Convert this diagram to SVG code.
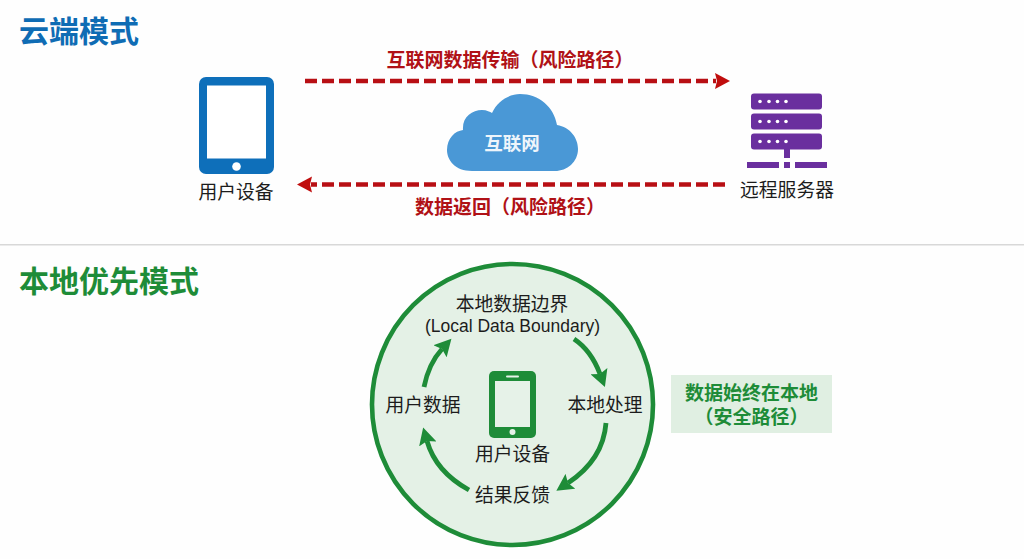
<svg xmlns="http://www.w3.org/2000/svg" width="1024" height="559" viewBox="0 0 1024 559">
<style>
text{font-family:"Liberation Sans","Noto Sans CJK SC",sans-serif;text-anchor:middle}
.t{font-size:30px;font-weight:700;text-anchor:start}
.k{font-size:18.8px;fill:#1c1c1c}
.r{font-size:19px;font-weight:700;fill:#b01116}
.g{font-size:19px;font-weight:700;fill:#1e8c38}
.rd{fill:none;stroke:#b80f14;stroke-width:4.5;stroke-dasharray:12 5}
.ga{fill:none;stroke:#1e8c38;stroke-width:4.8}
.dot{fill:#fff}
.bar{fill:#6a2f9e}
</style>
<defs>
<marker id="ar" viewBox="0 0 16 18" refX="1" refY="9" markerWidth="16" markerHeight="18" markerUnits="userSpaceOnUse" orient="auto"><path d="M0 1L15 9L0 17L2 9Z" fill="#c00d0d"/></marker>
<marker id="ag" viewBox="0 0 18 18" refX="3" refY="9" markerWidth="18" markerHeight="18" markerUnits="userSpaceOnUse" orient="auto"><path d="M0 0L17 9L0 18L3 9Z" fill="#1e8c38"/></marker>
</defs>
<rect width="1024" height="559" fill="#fefefe"/>
<rect x="0" y="244" width="1024" height="1.5" fill="#d8d8d8"/>
<text class="t" x="19" y="42" fill="#0f6cb4">云端模式</text>
<text class="t" x="19" y="292" fill="#1e8c38">本地优先模式</text>
<g id="boundary">
<circle cx="512.500" cy="404.500" r="140.500" fill="#e4f1e6" stroke="#1e8c38" stroke-width="4.600"/>
<text class="k" x="512" y="311">本地数据边界</text>
<text x="512.500" y="332" font-size="17.500" fill="#1c1c1c">(Local Data Boundary)</text>
</g>
<g id="connectors">
<path class="rd" d="M305 81H716" marker-end="url(#ar)"/>
<path class="rd" d="M725 184.500H311" marker-end="url(#ar)"/>
<path class="ga" d="M424 387C427 372 432 360 442 349" marker-end="url(#ag)"/>
<path class="ga" d="M574 339C586 347 594 358 600 374" marker-end="url(#ag)"/>
<path class="ga" d="M606 423C604 449 589 469 568 483" marker-end="url(#ag)"/>
<path class="ga" d="M469 490C449 479 433 462 427 441" marker-end="url(#ag)"/>
</g>
<text class="r" x="510" y="67">互联网数据传输（风险路径）</text>
<text class="r" x="510" y="214">数据返回（风险路径）</text>
<g id="tablet">
<rect x="199" y="77" width="75" height="97" rx="7" fill="#0e6fba"/>
<rect x="207" y="85.500" width="59" height="73" fill="#fff"/>
<circle cx="236.500" cy="166.500" r="4.300" fill="#fff"/>
<text class="k" x="236" y="199">用户设备</text>
</g>
<g id="cloud">
<path d="M472 171C455 171 447 160 447 150C447 138 455 131 463 130C462 117 472 110 482 110C487 110 490 112 492 113C498 100 510 94 520 94C539 94 554 107 557 125C570 127 578 138 578 149C578 162 567 171 555 171Z" fill="#4a98d6"/>
<text x="512" y="150" font-size="18.500" font-weight="700" fill="#eef5fb">互联网</text>
</g>
<g id="server">
<rect x="751" y="93.500" width="71" height="16" rx="3" class="bar"/>
<rect x="751" y="113.500" width="71" height="16" rx="3" class="bar"/>
<rect x="751" y="133.500" width="71" height="16" rx="3" class="bar"/>
<rect x="784" y="149" width="6" height="9" class="bar"/>
<rect x="747" y="162" width="32" height="6" class="bar"/>
<rect x="784" y="162" width="6" height="6" class="bar"/>
<rect x="795" y="162" width="32" height="6" class="bar"/>
<g class="dot">
<circle cx="760" cy="101.500" r="1.800"/><circle cx="769" cy="101.500" r="1.800"/><circle cx="777.500" cy="101.500" r="1.800"/><circle cx="786" cy="101.500" r="1.800"/>
<circle cx="760" cy="121.500" r="1.800"/><circle cx="769" cy="121.500" r="1.800"/><circle cx="777.500" cy="121.500" r="1.800"/><circle cx="786" cy="121.500" r="1.800"/>
<circle cx="760" cy="141.500" r="1.800"/><circle cx="769" cy="141.500" r="1.800"/><circle cx="777.500" cy="141.500" r="1.800"/><circle cx="786" cy="141.500" r="1.800"/>
</g>
<text class="k" x="787" y="197">远程服务器</text>
</g>
<g id="phone">
<rect x="489" y="371" width="47" height="67" rx="5" fill="#1e8c38"/>
<rect x="495" y="381" width="35" height="46" fill="#e6f2e8"/>
<rect x="506" y="375.500" width="13" height="2" rx="1" fill="#e6f2e8"/>
<circle cx="512.500" cy="432" r="3" fill="#e6f2e8"/>
<text class="k" x="512.500" y="461">用户设备</text>
</g>
<text id="n-data" class="k" x="423" y="412">用户数据</text>
<text id="n-proc" class="k" x="605" y="412">本地处理</text>
<text id="n-back" class="k" x="512.500" y="502">结果反馈</text>
<g id="note">
<rect x="671" y="375" width="161" height="58" fill="#e0efe2"/>
<text class="g" x="751.500" y="400">数据始终在本地</text>
<text class="g" x="751.500" y="424">（安全路径）</text>
</g>
</svg>
